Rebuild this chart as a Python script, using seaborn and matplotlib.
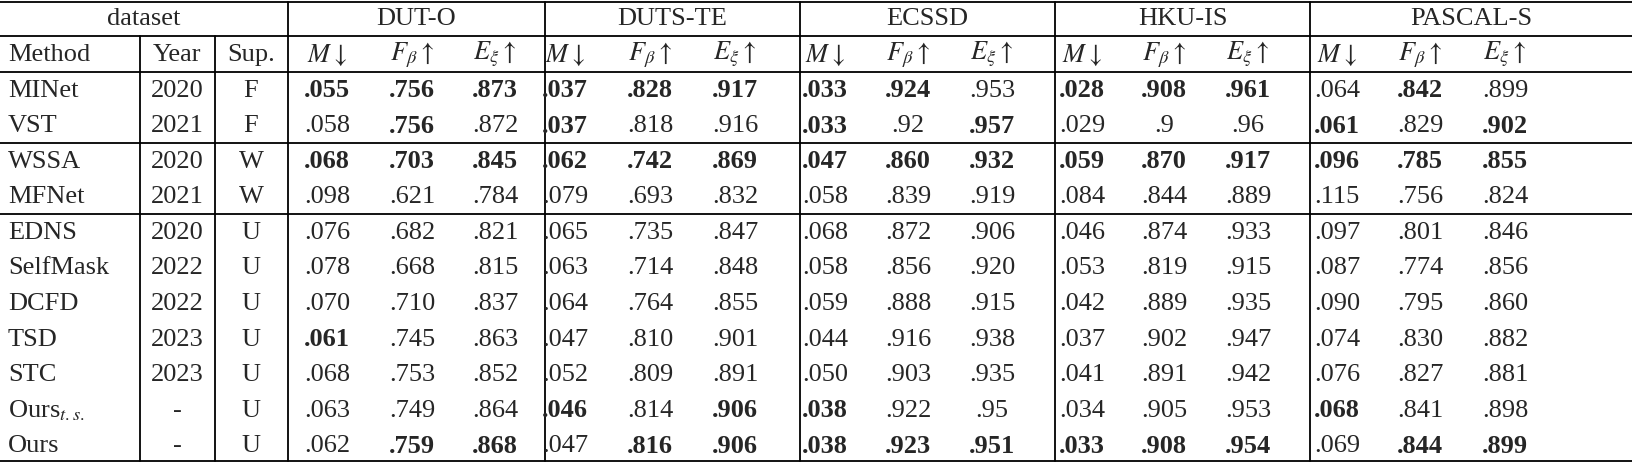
import matplotlib
matplotlib.use("Agg")
import matplotlib.pyplot as plt
import seaborn as sns

sns.set_style("white")
plt.rcParams['font.family'] = ['Liberation Serif', 'DejaVu Serif']
plt.rcParams['mathtext.fontset'] = 'stix'

# table data ("*" marks bold entries)
methods = ["MINet", "VST", "WSSA", "MFNet", "EDNS", "SelfMask", "DCFD", "TSD", "STC",
           "Ours$_{t.s.}$", "Ours"]
years = ["2020", "2021", "2020", "2021", "2020", "2022", "2022", "2023", "2023", "-", "-"]
sup = ["F", "F", "W", "W", "U", "U", "U", "U", "U", "U", "U"]
datasets = ["DUT-O", "DUTS-TE", "ECSSD", "HKU-IS", "PASCAL-S"]
metrics = [r"$M\downarrow$", r"$F_\beta\uparrow$", r"$E_\xi\uparrow$"]

dut_o_m = ["*.055", ".058", "*.068", ".098", ".076", ".078", ".070", "*.061", ".068", ".063", ".062"]
dut_o_f = ["*.756", "*.756", "*.703", ".621", ".682", ".668", ".710", ".745", ".753", ".749", "*.759"]
dut_o_e = ["*.873", ".872", "*.845", ".784", ".821", ".815", ".837", ".863", ".852", ".864", "*.868"]
duts_m = ["*.037", "*.037", "*.062", ".079", ".065", ".063", ".064", ".047", ".052", "*.046", ".047"]
duts_f = ["*.828", ".818", "*.742", ".693", ".735", ".714", ".764", ".810", ".809", ".814", "*.816"]
duts_e = ["*.917", ".916", "*.869", ".832", ".847", ".848", ".855", ".901", ".891", "*.906", "*.906"]
ecssd_m = ["*.033", "*.033", "*.047", ".058", ".068", ".058", ".059", ".044", ".050", "*.038", "*.038"]
ecssd_f = ["*.924", ".92", "*.860", ".839", ".872", ".856", ".888", ".916", ".903", ".922", "*.923"]
ecssd_e = [".953", "*.957", "*.932", ".919", ".906", ".920", ".915", ".938", ".935", ".95", "*.951"]
hku_m = ["*.028", ".029", "*.059", ".084", ".046", ".053", ".042", ".037", ".041", ".034", "*.033"]
hku_f = ["*.908", ".9", "*.870", ".844", ".874", ".819", ".889", ".902", ".891", ".905", "*.908"]
hku_e = ["*.961", ".96", "*.917", ".889", ".933", ".915", ".935", ".947", ".942", ".953", "*.954"]
pascal_m = [".064", "*.061", "*.096", ".115", ".097", ".087", ".090", ".074", ".076", "*.068", ".069"]
pascal_f = ["*.842", ".829", "*.785", ".756", ".801", ".774", ".795", ".830", ".827", ".841", "*.844"]
pascal_e = [".899", "*.902", "*.855", ".824", ".846", ".856", ".860", ".882", ".881", ".898", "*.899"]

columns = [dut_o_m, dut_o_f, dut_o_e, duts_m, duts_f, duts_e, ecssd_m, ecssd_f, ecssd_e,
           hku_m, hku_f, hku_e, pascal_m, pascal_f, pascal_e]

# layout in pixels
W, H = 1633, 463
group_lines = [288, 545, 800, 1055, 1310]
col_x = [327, 412, 495, 565, 650, 735, 825, 908, 992, 1082, 1164, 1248, 1337, 1420, 1505]
head_h = 36
row_h = (H - 2 * head_h) / 11.0

fig = plt.figure(figsize=(W / 100, H / 100), dpi=100)
ax = fig.add_axes([0, 0, 1, 1])
ax.set_xlim(0, W)
ax.set_ylim(H, 0)
ax.axis("off")

fs = 19
lw = 1.3

# horizontal rules
for y in [2, head_h, 2 * head_h, 2 * head_h + 2 * row_h, 2 * head_h + 4 * row_h, H - 2]:
    ax.plot([0, W], [y, y], color="black", lw=lw)
# vertical rules
for x in group_lines:
    ax.plot([x, x], [2, H - 2], color="black", lw=lw)
for x in [140, 215]:
    ax.plot([x, x], [head_h, H - 2], color="black", lw=lw)

# header
y1 = head_h / 2 + 1
ax.text(144, y1, "dataset", ha="center", va="center", fontsize=fs)
for i, name in enumerate(datasets):
    right = group_lines[i + 1] if i + 1 < len(group_lines) else W
    ax.text((group_lines[i] + right) / 2, y1, name, ha="center", va="center", fontsize=fs)

y2 = head_h * 1.5 + 1
ax.text(8, y2, "Method", ha="left", va="center", fontsize=fs)
ax.text(177, y2, "Year", ha="center", va="center", fontsize=fs)
ax.text(251, y2, "Sup.", ha="center", va="center", fontsize=fs)
for j, x in enumerate(col_x):
    ax.text(x, y2, metrics[j % 3], ha="center", va="center", fontsize=fs)

# body
for r in range(len(methods)):
    y = 2 * head_h + (r + 0.5) * row_h + 1
    ax.text(8, y, methods[r], ha="left", va="center", fontsize=fs)
    ax.text(177, y, years[r], ha="center", va="center", fontsize=fs)
    ax.text(251, y, sup[r], ha="center", va="center", fontsize=fs)
    for j, x in enumerate(col_x):
        v = columns[j][r]
        bold = v.startswith("*")
        ax.text(x, y, v.lstrip("*"), ha="center", va="center", fontsize=fs,
                fontweight="bold" if bold else "normal")

fig.savefig("out.png", dpi=100)
